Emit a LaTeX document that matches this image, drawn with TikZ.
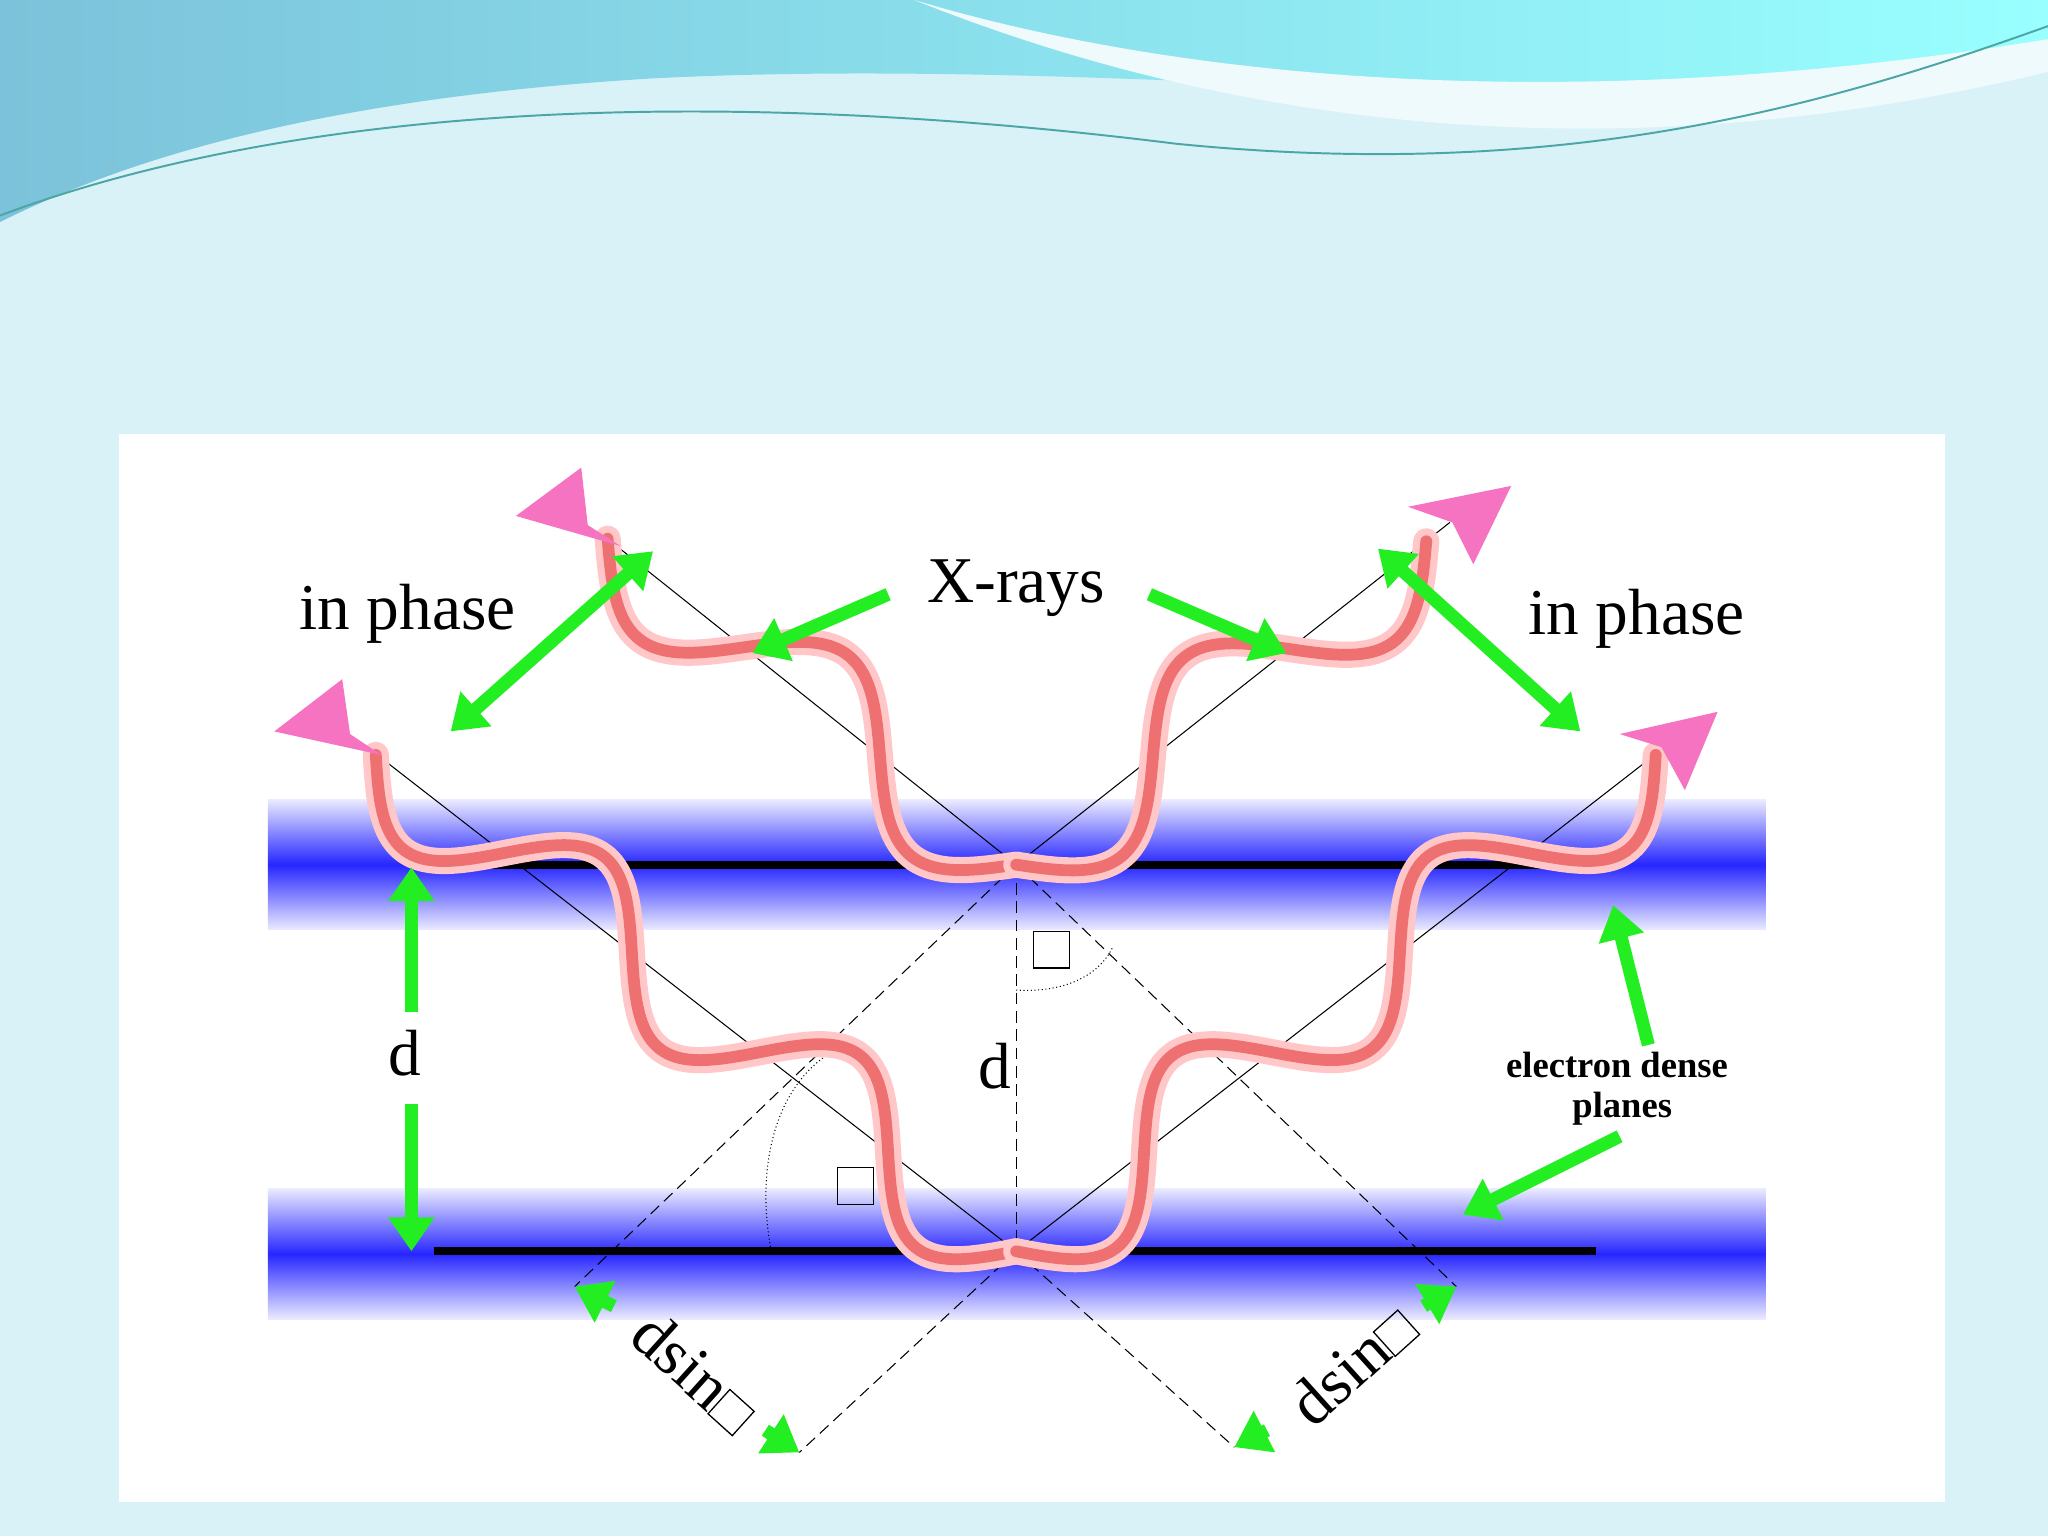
\documentclass[tikz,border=0pt]{standalone}
\usepackage{fontspec}
\setmainfont{Liberation Serif}
\usetikzlibrary{arrows.meta}
\definecolor{bgc}{HTML}{D8F2F8}
\definecolor{topb}{HTML}{7CC2DA}
\definecolor{wavec}{HTML}{EE7070}
\definecolor{garrow}{HTML}{22EE22}
\newcommand{\boxglyph}{\setlength{\fboxsep}{0pt}\setlength{\fboxrule}{1pt}\fbox{\rule{0pt}{24pt}\hspace{24pt}}}
\tikzset{
 band/.style={top color=blue!8, bottom color=blue!8, middle color=blue!85},
 wavy/.style={line width=20,color=red!22,line cap=round,line join=round},
 wavyin/.style={line width=9,color=wavec,line cap=round,line join=round},
 ray/.style={line width=0.8},
 dsh/.style={dash pattern=on 9pt off 5pt,line width=0.8},
 garr/.style={line width=10,draw=garrow,-{Triangle[length=26,width=34]}},
 garr2/.style={line width=10,draw=garrow,{Triangle[length=26,width=34]}-{Triangle[length=26,width=34]}},
 head/.style={fill=magenta!55},
 big/.style={font=\fontsize{50}{54}\selectfont},
 small/.style={font=\fontsize{28}{32}\selectfont\bfseries},
}
\begin{document}
\begin{tikzpicture}[x=1pt,y=-1pt]
\useasboundingbox (0,0) rectangle (1568,1176);
\fill[bgc] (0,0) rectangle (1568,1176);
% top decoration
\shade[left color=topb, right color=cyan!40] (0,0) -- (1568,0) -- (1568,40) .. controls (1300,110) and (900,40) .. (500,60) .. controls (250,75) and (100,120) .. (0,170) -- cycle;
\fill[white!60!bgc] (700,0) .. controls (900,60) and (1200,90) .. (1568,30) -- (1568,55) .. controls (1300,120) and (1000,120) .. (700,0) -- cycle;
\draw[teal!70,line width=1.5] (0,165) .. controls (200,90) and (500,60) .. (900,110) .. controls (1200,140) and (1400,80) .. (1568,20);
\fill[white] (91,332) rectangle (1489,1150);
% bands
\shade[band] (205,612) rectangle (1352,712);
\shade[band] (205,910) rectangle (1352,1010);
\draw[line width=6] (360,662) -- (1222,662);
\draw[line width=6] (332,958) -- (1222,958);
\coordinate (T) at (778,662);
\coordinate (B) at (778,958);
% rays
\coordinate (LU) at (462,410);
\coordinate (LL) at (285,575);
\coordinate (RU) at (1110,400);
\coordinate (RL) at (1290,560);
\draw[ray] (LU) -- (T) -- (RU);
\draw[ray] (LL) -- (B) -- (RL);
% dashed
\coordinate (D1) at (440,985); \coordinate (D2) at (612,1112);
\coordinate (D3) at (1115,985); \coordinate (D4) at (945,1108);
\draw[dsh] (T) -- (D1); \draw[dsh] (B) -- (D2);
\draw[dsh] (T) -- (D3); \draw[dsh] (B) -- (D4);
\draw[dsh] (T) -- (B);
\draw[dotted,line width=0.8] (778,758) .. controls (810,760) and (840,750) .. (852,725);
\draw[dotted,line width=0.8] (630,810) .. controls (590,840) and (580,900) .. (590,955);
\node[draw,line width=1,minimum size=28,inner sep=0] (sq1) at (805,727) {};
\node[draw,line width=1,minimum size=28,inner sep=0] (sq2) at (655,908) {};
% waves: origin/ux/uy/nx/ny/len/k
\foreach \ox/\oy/\ux/\uy/\nx/\ny/\L/\k in {778/662/-0.782/-0.624/-0.624/0.782/400/1.35, 778/958/-0.790/-0.614/-0.614/0.790/620/1.45, 778/662/0.785/-0.619/0.619/0.785/400/1.35, 778/958/0.789/-0.614/0.614/0.789/620/1.45}{
 \draw[wavy] plot[domain=0:\L,samples=100,smooth] ({\ox+\ux*\x+\nx*45*sin(\k*\x)},{\oy+\uy*\x+\ny*45*sin(\k*\x)});
 \draw[wavyin] plot[domain=0:\L,samples=100,smooth] ({\ox+\ux*\x+\nx*45*sin(\k*\x)},{\oy+\uy*\x+\ny*45*sin(\k*\x)});
}
% heads
\fill[head] (395,395) -- (445,358) -- (450,402) -- (475,418) -- cycle;
\fill[head] (210,560) -- (262,520) -- (268,562) -- (292,578) -- cycle;
\fill[head] (1157,372) -- (1078,388) -- (1112,400) -- (1128,432) -- cycle;
\fill[head] (1315,545) -- (1240,562) -- (1272,572) -- (1290,605) -- cycle;
% texts
\node[big] (ip1) at (312,470) {in phase};
\node[big] (xr) at (778,450) {X-rays};
\node[big] (ip2) at (1253,474) {in phase};
\node[big] (d1) at (310,806) {d};
\node[big] (d2) at (762,816) {d};
\node[small] (ed) at (1238,815) {electron dense};
\node[small] (pl) at (1242,849) {planes};
% green arrows
\coordinate (a1) at (500,422); \coordinate (a2) at (345,560);
\draw[garr2] (a1) -- (a2);
\coordinate (a3) at (1055,420); \coordinate (a4) at (1210,560);
\draw[garr2] (a3) -- (a4);
\coordinate (x1) at (680,455); \coordinate (x2) at (576,500);
\draw[garr] (x1) -- (x2);
\coordinate (x3) at (880,455); \coordinate (x4) at (985,500);
\draw[garr] (x3) -- (x4);
\coordinate (v1) at (315,775); \coordinate (v2) at (315,664);
\draw[garr] (v1) -- (v2);
\coordinate (v3) at (315,845); \coordinate (v4) at (315,958);
\draw[garr] (v3) -- (v4);
\coordinate (e1) at (1262,800); \coordinate (e2) at (1235,693);
\draw[garr] (e1) -- (e2);
\coordinate (e3) at (1240,870); \coordinate (e4) at (1120,930);
\draw[garr] (e3) -- (e4);
% dsin
\coordinate (s1) at (470,1000); \coordinate (s2) at (586,1095);
\draw[garr] (s1) -- (D1);
\draw[garr] (s2) -- (D2);
\node[big,rotate=-42,inner sep=0] (ds1) at (532,1050) {dsin\boxglyph};
\coordinate (s3) at (1090,1000); \coordinate (s4) at (970,1095);
\draw[garr] (s3) -- (D3);
\draw[garr] (s4) -- (D4);
\node[big,rotate=42,inner sep=0] (ds2) at (1035,1045) {dsin\boxglyph};
\end{tikzpicture}
\end{document}
